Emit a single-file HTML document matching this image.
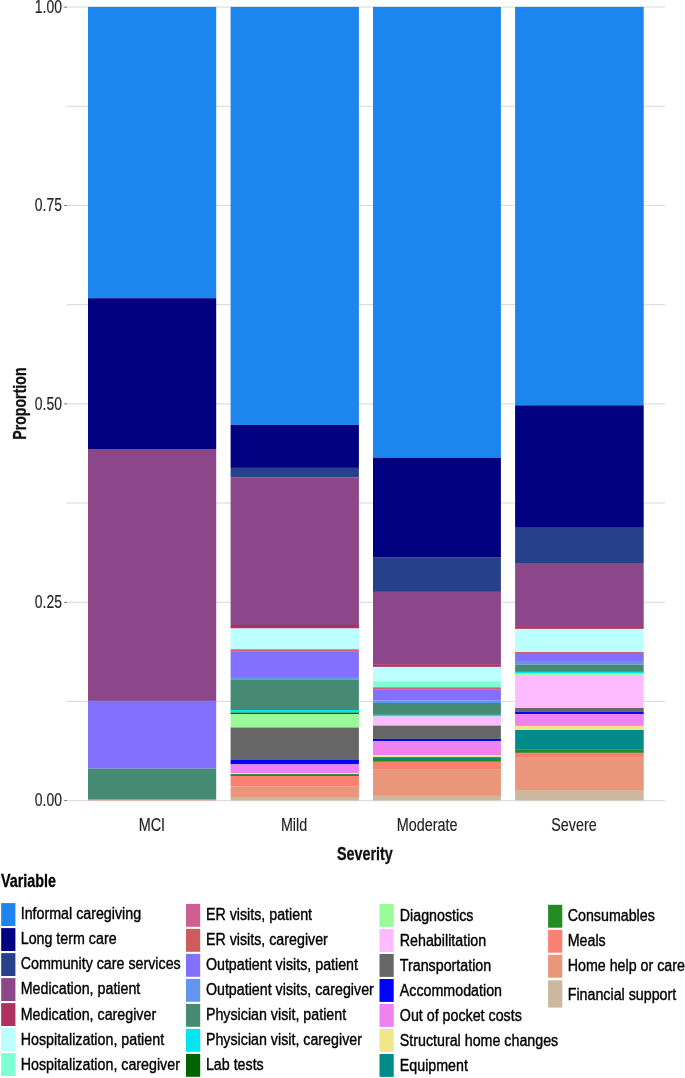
<!DOCTYPE html><html><head><meta charset="utf-8"><title>Proportion by Severity</title>
<style>html,body{margin:0;padding:0;background:#fff}svg{display:block}text{font-family:"Liberation Sans",sans-serif;font-size:17.10px;stroke-width:0.4px;stroke-linejoin:round}</style></head><body>
<svg width="685" height="1078" viewBox="0 0 685 1078">
<rect width="685" height="1078" fill="#fff"/>
<rect x="66.8" y="6.45" width="598.2" height="1.15" fill="#DDDDDD"/>
<rect x="66.8" y="105.65" width="598.2" height="1.15" fill="#DDDDDD"/>
<rect x="66.8" y="204.85" width="598.2" height="1.15" fill="#DDDDDD"/>
<rect x="66.8" y="304.05" width="598.2" height="1.15" fill="#DDDDDD"/>
<rect x="66.8" y="403.25" width="598.2" height="1.15" fill="#DDDDDD"/>
<rect x="66.8" y="502.45" width="598.2" height="1.15" fill="#DDDDDD"/>
<rect x="66.8" y="601.65" width="598.2" height="1.15" fill="#DDDDDD"/>
<rect x="66.8" y="700.85" width="598.2" height="1.15" fill="#DDDDDD"/>
<rect x="66.8" y="800.05" width="598.2" height="1.15" fill="#DDDDDD"/>
<rect x="88.00" y="6.90" width="128.20" height="291.30" fill="#1C86EE"/>
<rect x="88.00" y="298.20" width="128.20" height="150.80" fill="#000080"/>
<rect x="88.00" y="449.00" width="128.20" height="251.90" fill="#8B4789"/>
<rect x="88.00" y="700.90" width="128.20" height="67.80" fill="#8470FF"/>
<rect x="88.00" y="768.70" width="128.20" height="31.00" fill="#458B74"/>
<rect x="88.00" y="799.70" width="128.20" height="0.80" fill="#E9967A"/>
<rect x="230.60" y="6.90" width="128.30" height="418.00" fill="#1C86EE"/>
<rect x="230.60" y="424.90" width="128.30" height="43.00" fill="#000080"/>
<rect x="230.60" y="467.90" width="128.30" height="9.30" fill="#27408B"/>
<rect x="230.60" y="477.20" width="128.30" height="147.80" fill="#8B4789"/>
<rect x="230.60" y="625.00" width="128.30" height="3.50" fill="#B03060"/>
<rect x="230.60" y="628.50" width="128.30" height="20.80" fill="#BBFFFF"/>
<rect x="230.60" y="649.30" width="128.30" height="2.50" fill="#CD5F7C"/>
<rect x="230.60" y="651.80" width="128.30" height="25.20" fill="#8470FF"/>
<rect x="230.60" y="677.00" width="128.30" height="2.90" fill="#6495ED"/>
<rect x="230.60" y="679.90" width="128.30" height="30.10" fill="#458B74"/>
<rect x="230.60" y="710.00" width="128.30" height="2.60" fill="#00E5EE"/>
<rect x="230.60" y="712.60" width="128.30" height="1.40" fill="#006400"/>
<rect x="230.60" y="714.00" width="128.30" height="13.50" fill="#98FB98"/>
<rect x="230.60" y="727.50" width="128.30" height="32.00" fill="#666666"/>
<rect x="230.60" y="759.50" width="128.30" height="4.90" fill="#0000FF"/>
<rect x="230.60" y="764.40" width="128.30" height="8.60" fill="#EE82EE"/>
<rect x="230.60" y="773.00" width="128.30" height="1.10" fill="#F0E68C"/>
<rect x="230.60" y="774.10" width="128.30" height="1.90" fill="#228B22"/>
<rect x="230.60" y="776.00" width="128.30" height="10.60" fill="#FA8072"/>
<rect x="230.60" y="786.60" width="128.30" height="10.40" fill="#E9967A"/>
<rect x="230.60" y="797.00" width="128.30" height="3.50" fill="#CDB79E"/>
<rect x="373.00" y="6.90" width="127.90" height="450.70" fill="#1C86EE"/>
<rect x="373.00" y="457.60" width="127.90" height="100.10" fill="#000080"/>
<rect x="373.00" y="557.70" width="127.90" height="34.20" fill="#27408B"/>
<rect x="373.00" y="591.90" width="127.90" height="72.30" fill="#8B4789"/>
<rect x="373.00" y="664.20" width="127.90" height="2.70" fill="#B03060"/>
<rect x="373.00" y="666.90" width="127.90" height="14.40" fill="#BBFFFF"/>
<rect x="373.00" y="681.30" width="127.90" height="6.00" fill="#7FFFD4"/>
<rect x="373.00" y="687.30" width="127.90" height="2.50" fill="#CD5F7C"/>
<rect x="373.00" y="689.80" width="127.90" height="10.50" fill="#8470FF"/>
<rect x="373.00" y="700.30" width="127.90" height="2.70" fill="#6495ED"/>
<rect x="373.00" y="703.00" width="127.90" height="11.90" fill="#458B74"/>
<rect x="373.00" y="714.90" width="127.90" height="1.60" fill="#00E5EE"/>
<rect x="373.00" y="716.50" width="127.90" height="9.10" fill="#FFBBFF"/>
<rect x="373.00" y="725.60" width="127.90" height="13.30" fill="#666666"/>
<rect x="373.00" y="738.90" width="127.90" height="2.20" fill="#0000FF"/>
<rect x="373.00" y="741.10" width="127.90" height="13.90" fill="#EE82EE"/>
<rect x="373.00" y="755.00" width="127.90" height="2.10" fill="#F0E68C"/>
<rect x="373.00" y="757.10" width="127.90" height="1.90" fill="#008B8B"/>
<rect x="373.00" y="759.00" width="127.90" height="2.80" fill="#228B22"/>
<rect x="373.00" y="761.80" width="127.90" height="7.30" fill="#FA8072"/>
<rect x="373.00" y="769.10" width="127.90" height="26.80" fill="#E9967A"/>
<rect x="373.00" y="795.90" width="127.90" height="4.60" fill="#CDB79E"/>
<rect x="515.10" y="6.90" width="128.60" height="398.40" fill="#1C86EE"/>
<rect x="515.10" y="405.30" width="128.60" height="122.50" fill="#000080"/>
<rect x="515.10" y="527.80" width="128.60" height="35.20" fill="#27408B"/>
<rect x="515.10" y="563.00" width="128.60" height="63.10" fill="#8B4789"/>
<rect x="515.10" y="626.10" width="128.60" height="2.80" fill="#B03060"/>
<rect x="515.10" y="628.90" width="128.60" height="23.10" fill="#BBFFFF"/>
<rect x="515.10" y="652.00" width="128.60" height="2.00" fill="#CD5F7C"/>
<rect x="515.10" y="654.00" width="128.60" height="7.90" fill="#8470FF"/>
<rect x="515.10" y="661.90" width="128.60" height="2.70" fill="#6495ED"/>
<rect x="515.10" y="664.60" width="128.60" height="7.30" fill="#458B74"/>
<rect x="515.10" y="671.90" width="128.60" height="1.80" fill="#00E5EE"/>
<rect x="515.10" y="673.70" width="128.60" height="1.20" fill="#98FB98"/>
<rect x="515.10" y="674.90" width="128.60" height="33.10" fill="#FFBBFF"/>
<rect x="515.10" y="708.00" width="128.60" height="3.90" fill="#666666"/>
<rect x="515.10" y="711.90" width="128.60" height="2.20" fill="#0000FF"/>
<rect x="515.10" y="714.10" width="128.60" height="11.80" fill="#EE82EE"/>
<rect x="515.10" y="725.90" width="128.60" height="4.10" fill="#F0E68C"/>
<rect x="515.10" y="730.00" width="128.60" height="19.80" fill="#008B8B"/>
<rect x="515.10" y="749.80" width="128.60" height="3.10" fill="#228B22"/>
<rect x="515.10" y="752.90" width="128.60" height="4.10" fill="#FA8072"/>
<rect x="515.10" y="757.00" width="128.60" height="33.00" fill="#E9967A"/>
<rect x="515.10" y="790.00" width="128.60" height="10.50" fill="#CDB79E"/>
<rect x="64.2" y="6.70" width="2.7" height="0.8" fill="#444"/>
<text transform="translate(61.9,13) scale(0.787,1)" text-anchor="end" fill="#222" stroke="#222" style="font-size:17.70px;stroke-width:0.15px">1.00</text>
<rect x="64.2" y="205.10" width="2.7" height="0.8" fill="#444"/>
<text transform="translate(61.9,211) scale(0.787,1)" text-anchor="end" fill="#222" stroke="#222" style="font-size:17.70px;stroke-width:0.15px">0.75</text>
<rect x="64.2" y="403.50" width="2.7" height="0.8" fill="#444"/>
<text transform="translate(61.9,410) scale(0.787,1)" text-anchor="end" fill="#222" stroke="#222" style="font-size:17.70px;stroke-width:0.15px">0.50</text>
<rect x="64.2" y="601.90" width="2.7" height="0.8" fill="#444"/>
<text transform="translate(61.9,608) scale(0.787,1)" text-anchor="end" fill="#222" stroke="#222" style="font-size:17.70px;stroke-width:0.15px">0.25</text>
<rect x="64.2" y="800.30" width="2.7" height="0.8" fill="#444"/>
<text transform="translate(61.9,806) scale(0.787,1)" text-anchor="end" fill="#222" stroke="#222" style="font-size:17.70px;stroke-width:0.15px">0.00</text>
<text transform="translate(138.68,831) scale(0.813,1)" fill="#222" stroke="#222" style="font-size:17.70px;stroke-width:0.15px">MCI</text>
<text transform="translate(280.89,831) scale(0.810,1)" fill="#222" stroke="#222" style="font-size:17.70px;stroke-width:0.15px">Mild</text>
<text transform="translate(396.78,831) scale(0.813,1)" fill="#222" stroke="#222" style="font-size:17.70px;stroke-width:0.15px">Moderate</text>
<text transform="translate(551.32,831) scale(0.809,1)" fill="#222" stroke="#222" style="font-size:17.70px;stroke-width:0.15px">Severe</text>
<text transform="translate(364.9,860) scale(0.797,1)" text-anchor="middle" font-weight="bold" style="font-size:18.00px;stroke-width:0.3px" fill="#111" stroke="#111">Severity</text>
<text transform="translate(26.0,403.6) rotate(-90) scale(0.792,1)" text-anchor="middle" font-weight="bold" style="font-size:17.90px;stroke-width:0.3px" fill="#111" stroke="#111">Proportion</text>
<text transform="translate(1.0,887) scale(0.797,1)" font-weight="bold" style="font-size:18.00px;stroke-width:0.3px" fill="#000" stroke="#000">Variable</text>
<rect x="1.20" y="903.10" width="14.2" height="22.90" fill="#1C86EE"/>
<text transform="translate(20.70,919.00) scale(0.834,1)" fill="#000" stroke="#000">Informal caregiving</text>
<rect x="1.20" y="928.10" width="14.2" height="22.90" fill="#000080"/>
<text transform="translate(20.70,944.00) scale(0.834,1)" fill="#000" stroke="#000">Long term care</text>
<rect x="1.20" y="953.10" width="14.2" height="22.90" fill="#27408B"/>
<text transform="translate(20.70,969.00) scale(0.834,1)" fill="#000" stroke="#000">Community care services</text>
<rect x="1.20" y="978.10" width="14.2" height="22.90" fill="#8B4789"/>
<text transform="translate(20.70,994.00) scale(0.834,1)" fill="#000" stroke="#000">Medication, patient</text>
<rect x="1.20" y="1003.10" width="14.2" height="22.90" fill="#B03060"/>
<text transform="translate(20.70,1020.00) scale(0.834,1)" fill="#000" stroke="#000">Medication, caregiver</text>
<rect x="1.20" y="1028.10" width="14.2" height="22.90" fill="#BBFFFF"/>
<text transform="translate(20.70,1045.00) scale(0.834,1)" fill="#000" stroke="#000">Hospitalization, patient</text>
<rect x="1.20" y="1053.10" width="14.2" height="22.90" fill="#7FFFD4"/>
<text transform="translate(20.70,1070.00) scale(0.834,1)" fill="#000" stroke="#000">Hospitalization, caregiver</text>
<rect x="186.00" y="903.90" width="14.2" height="22.90" fill="#CD6090"/>
<text transform="translate(205.90,920.00) scale(0.834,1)" fill="#000" stroke="#000">ER visits, patient</text>
<rect x="186.00" y="928.90" width="14.2" height="22.90" fill="#CD5C5C"/>
<text transform="translate(205.90,945.00) scale(0.834,1)" fill="#000" stroke="#000">ER visits, caregiver</text>
<rect x="186.00" y="953.90" width="14.2" height="22.90" fill="#8470FF"/>
<text transform="translate(205.90,970.00) scale(0.834,1)" fill="#000" stroke="#000">Outpatient visits, patient</text>
<rect x="186.00" y="978.90" width="14.2" height="22.90" fill="#6495ED"/>
<text transform="translate(205.90,995.00) scale(0.834,1)" fill="#000" stroke="#000">Outpatient visits, caregiver</text>
<rect x="186.00" y="1003.90" width="14.2" height="22.90" fill="#458B74"/>
<text transform="translate(205.90,1020.00) scale(0.834,1)" fill="#000" stroke="#000">Physician visit, patient</text>
<rect x="186.00" y="1028.90" width="14.2" height="22.90" fill="#00E5EE"/>
<text transform="translate(205.90,1045.00) scale(0.834,1)" fill="#000" stroke="#000">Physician visit, caregiver</text>
<rect x="186.00" y="1053.90" width="14.2" height="22.90" fill="#006400"/>
<text transform="translate(205.90,1070.00) scale(0.834,1)" fill="#000" stroke="#000">Lab tests</text>
<rect x="379.50" y="904.00" width="14.2" height="22.90" fill="#98FB98"/>
<text transform="translate(399.80,921.00) scale(0.834,1)" fill="#000" stroke="#000">Diagnostics</text>
<rect x="379.50" y="929.00" width="14.2" height="22.90" fill="#FFBBFF"/>
<text transform="translate(399.80,946.00) scale(0.834,1)" fill="#000" stroke="#000">Rehabilitation</text>
<rect x="379.50" y="954.00" width="14.2" height="22.90" fill="#666666"/>
<text transform="translate(399.80,971.00) scale(0.834,1)" fill="#000" stroke="#000">Transportation</text>
<rect x="379.50" y="979.00" width="14.2" height="22.90" fill="#0000FF"/>
<text transform="translate(399.80,996.00) scale(0.834,1)" fill="#000" stroke="#000">Accommodation</text>
<rect x="379.50" y="1004.00" width="14.2" height="22.90" fill="#EE82EE"/>
<text transform="translate(399.80,1021.00) scale(0.834,1)" fill="#000" stroke="#000">Out of pocket costs</text>
<rect x="379.50" y="1029.00" width="14.2" height="22.90" fill="#F0E68C"/>
<text transform="translate(399.80,1046.00) scale(0.834,1)" fill="#000" stroke="#000">Structural home changes</text>
<rect x="379.50" y="1054.00" width="14.2" height="22.90" fill="#008B8B"/>
<text transform="translate(399.80,1071.00) scale(0.834,1)" fill="#000" stroke="#000">Equipment</text>
<rect x="548.10" y="904.80" width="14.2" height="22.90" fill="#228B22"/>
<text transform="translate(567.70,921.00) scale(0.834,1)" fill="#000" stroke="#000">Consumables</text>
<rect x="548.10" y="929.80" width="14.2" height="22.90" fill="#FA8072"/>
<text transform="translate(567.70,946.00) scale(0.834,1)" fill="#000" stroke="#000">Meals</text>
<rect x="548.10" y="954.80" width="14.2" height="22.90" fill="#E9967A"/>
<text transform="translate(567.70,971.00) scale(0.834,1)" fill="#000" stroke="#000">Home help or care</text>
<rect x="548.10" y="980.30" width="14.2" height="27.30" fill="#CDB79E"/>
<text transform="translate(567.70,1000.20) scale(0.834,1)" fill="#000" stroke="#000">Financial support</text>
</svg></body></html>
